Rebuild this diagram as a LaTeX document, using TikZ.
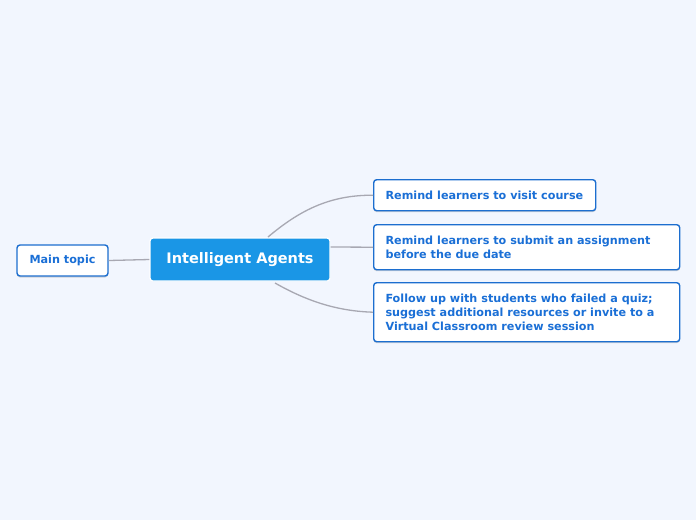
\documentclass[tikz,border=0pt]{standalone}
\usepackage{fontspec}
\setmainfont{DejaVu Sans}
\usetikzlibrary{shadows}
\definecolor{bg}{HTML}{F2F6FE}
\definecolor{tx}{HTML}{1A6FD6}
\definecolor{bd}{HTML}{1C6ECF}
\definecolor{cen}{HTML}{1A96E6}
\definecolor{ln}{HTML}{A8A8B2}
\begin{document}
\begin{tikzpicture}[x=1pt,y=-1pt,
  sub/.style={draw=bd,line width=1.4pt,fill=white,rounded corners=3pt,text=tx,font=\bfseries\fontsize{11.2}{13}\selectfont,align=left,anchor=north west,inner sep=0pt,
    drop shadow={shadow xshift=0pt,shadow yshift=-1.5pt,opacity=0.3}},
  lab/.style={anchor=west,text=tx,font=\bfseries\fontsize{11.2}{14}\selectfont,align=left},
  con/.style={draw=ln,line width=1.3pt}]
\fill[bg] (0,0) rectangle (696,520);
\useasboundingbox (0,0) rectangle (696,520);
\node[draw=white,line width=1.2pt,fill=cen,rounded corners=3pt,text=white,font=\bfseries\fontsize{14.5}{16}\selectfont,minimum width=180pt,minimum height=43pt] (c) at (240,259.5) {Intelligent Agents};
\node[sub,minimum width=91pt,minimum height=31pt,align=center,anchor=center] (m) at (62.5,260.5) {Main topic};
\node[sub,minimum width=222pt,minimum height=31pt] (b1) at (373,179) {};
\node[lab] (t1) at (382,195) {Remind learners to visit course};
\node[sub,minimum width=306pt,minimum height=45pt] (b2) at (373,224) {};
\node[lab] (t2) at (382,247) {Remind learners to submit an assignment\\before the due date};
\node[sub,minimum width=306pt,minimum height=59pt] (b3) at (373,282) {};
\node[lab] (t3) at (382,312) {Follow up with students who failed a quiz;\\suggest additional resources or invite to a\\Virtual Classroom review session};
\draw[con] (m.east) -- (c.west);
\draw[con] (268,237) .. controls (300,210) and (330,195) .. (b1.west);
\draw[con] (c.east |- 0,247) -- (b2.west);
\draw[con] (275,283) .. controls (305,300) and (335,311) .. (b3.west);
\end{tikzpicture}
\end{document}
